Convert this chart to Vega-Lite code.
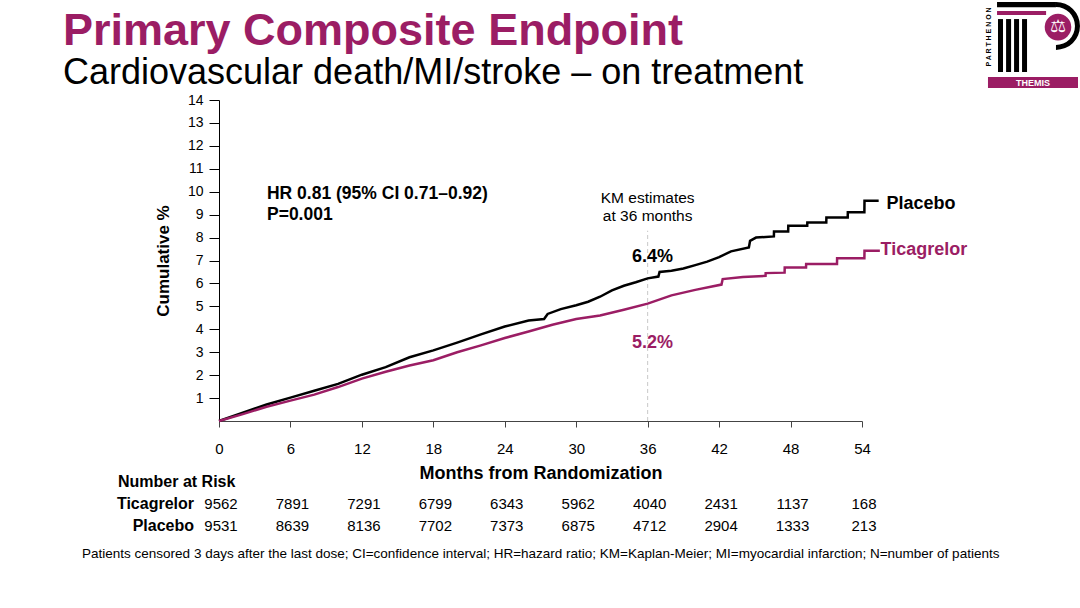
{
  "$schema": "https://vega.github.io/schema/vega-lite/v6.json",
  "autosize": {"type": "none"},
  "width": 643,
  "height": 321,
  "padding": {"left": 219, "top": 100, "right": 218, "bottom": 187},
  "background": "#ffffff",
  "config": {
    "font": "Liberation Sans",
    "view": {"stroke": null},
    "text": {"font": "Liberation Sans", "color": "#000000"},
    "axisX": {
      "titleFontSize": 18, "titleFontWeight": "bold", "titleColor": "#000000", "titlePadding": 8,
      "labelFontSize": 15, "labelColor": "#000000", "labelPadding": 14, "labelFlush": false, "labelOverlap": false,
      "tickSize": 6, "tickColor": "#444444", "domainColor": "#444444", "grid": false
    },
    "axisY": {
      "titleFontSize": 17, "titleFontWeight": "bold", "titleColor": "#000000", "titlePadding": 15,
      "labelFontSize": 14, "labelColor": "#000000", "labelPadding": 6, "labelFlush": false, "labelOverlap": false,
      "tickSize": 10, "tickColor": "#000000", "domainColor": "#000000", "grid": false
    }
  },
  "title": {
    "text": "Primary Composite Endpoint",
    "subtitle": "Cardiovascular death/MI/stroke – on treatment",
    "anchor": "start",
    "frame": "group",
    "dx": -156,
    "dy": 93,
    "offset": 4,
    "font": "Liberation Sans",
    "fontSize": 45,
    "fontWeight": "bold",
    "color": "#9B1D64",
    "subtitleFont": "Liberation Sans",
    "subtitleFontSize": 36,
    "subtitleColor": "#000000",
    "subtitlePadding": 2
  },
  "datasets": {
    "km": [
      {"series": "Placebo", "month": 0, "pct": 0},
      {"series": "Placebo", "month": 2, "pct": 0.36},
      {"series": "Placebo", "month": 4, "pct": 0.72},
      {"series": "Placebo", "month": 6, "pct": 1.02},
      {"series": "Placebo", "month": 8, "pct": 1.32},
      {"series": "Placebo", "month": 10, "pct": 1.62},
      {"series": "Placebo", "month": 12, "pct": 2.02},
      {"series": "Placebo", "month": 14, "pct": 2.35},
      {"series": "Placebo", "month": 16, "pct": 2.78},
      {"series": "Placebo", "month": 18, "pct": 3.08},
      {"series": "Placebo", "month": 20, "pct": 3.42},
      {"series": "Placebo", "month": 22, "pct": 3.78},
      {"series": "Placebo", "month": 24, "pct": 4.12},
      {"series": "Placebo", "month": 26, "pct": 4.38},
      {"series": "Placebo", "month": 27.3, "pct": 4.45},
      {"series": "Placebo", "month": 27.6, "pct": 4.67},
      {"series": "Placebo", "month": 28.7, "pct": 4.88},
      {"series": "Placebo", "month": 30, "pct": 5.05},
      {"series": "Placebo", "month": 31, "pct": 5.2},
      {"series": "Placebo", "month": 32, "pct": 5.42},
      {"series": "Placebo", "month": 33, "pct": 5.7},
      {"series": "Placebo", "month": 34, "pct": 5.9},
      {"series": "Placebo", "month": 35, "pct": 6.05},
      {"series": "Placebo", "month": 36, "pct": 6.22},
      {"series": "Placebo", "month": 36.9, "pct": 6.3},
      {"series": "Placebo", "month": 37, "pct": 6.5},
      {"series": "Placebo", "month": 38, "pct": 6.55},
      {"series": "Placebo", "month": 39, "pct": 6.65},
      {"series": "Placebo", "month": 40, "pct": 6.8},
      {"series": "Placebo", "month": 41, "pct": 6.95},
      {"series": "Placebo", "month": 42, "pct": 7.15},
      {"series": "Placebo", "month": 43, "pct": 7.4},
      {"series": "Placebo", "month": 44.5, "pct": 7.57},
      {"series": "Placebo", "month": 44.6, "pct": 7.86},
      {"series": "Placebo", "month": 45.1, "pct": 8.0},
      {"series": "Placebo", "month": 46.6, "pct": 8.05},
      {"series": "Placebo", "month": 46.61, "pct": 8.26},
      {"series": "Placebo", "month": 47.8, "pct": 8.26},
      {"series": "Placebo", "month": 47.81, "pct": 8.52},
      {"series": "Placebo", "month": 49.4, "pct": 8.52},
      {"series": "Placebo", "month": 49.41, "pct": 8.66},
      {"series": "Placebo", "month": 51, "pct": 8.66},
      {"series": "Placebo", "month": 51.01, "pct": 8.88},
      {"series": "Placebo", "month": 52.8, "pct": 8.88},
      {"series": "Placebo", "month": 52.81, "pct": 9.1},
      {"series": "Placebo", "month": 54.2, "pct": 9.1},
      {"series": "Placebo", "month": 54.21, "pct": 9.61},
      {"series": "Placebo", "month": 55.4, "pct": 9.61},
      {"series": "Ticagrelor", "month": 0, "pct": 0},
      {"series": "Ticagrelor", "month": 2, "pct": 0.3},
      {"series": "Ticagrelor", "month": 4, "pct": 0.62},
      {"series": "Ticagrelor", "month": 6, "pct": 0.89},
      {"series": "Ticagrelor", "month": 8, "pct": 1.15},
      {"series": "Ticagrelor", "month": 10, "pct": 1.48},
      {"series": "Ticagrelor", "month": 12, "pct": 1.85},
      {"series": "Ticagrelor", "month": 14, "pct": 2.15},
      {"series": "Ticagrelor", "month": 16, "pct": 2.42},
      {"series": "Ticagrelor", "month": 18, "pct": 2.65},
      {"series": "Ticagrelor", "month": 20, "pct": 3.0},
      {"series": "Ticagrelor", "month": 22, "pct": 3.3},
      {"series": "Ticagrelor", "month": 24, "pct": 3.62},
      {"series": "Ticagrelor", "month": 26, "pct": 3.9},
      {"series": "Ticagrelor", "month": 28, "pct": 4.2},
      {"series": "Ticagrelor", "month": 30, "pct": 4.45},
      {"series": "Ticagrelor", "month": 32, "pct": 4.6},
      {"series": "Ticagrelor", "month": 34, "pct": 4.85},
      {"series": "Ticagrelor", "month": 36, "pct": 5.12},
      {"series": "Ticagrelor", "month": 38, "pct": 5.48},
      {"series": "Ticagrelor", "month": 40, "pct": 5.72},
      {"series": "Ticagrelor", "month": 42.2, "pct": 5.95},
      {"series": "Ticagrelor", "month": 42.3, "pct": 6.19},
      {"series": "Ticagrelor", "month": 44, "pct": 6.28},
      {"series": "Ticagrelor", "month": 45.9, "pct": 6.33},
      {"series": "Ticagrelor", "month": 45.91, "pct": 6.45},
      {"series": "Ticagrelor", "month": 47.5, "pct": 6.47},
      {"series": "Ticagrelor", "month": 47.51, "pct": 6.7},
      {"series": "Ticagrelor", "month": 49.3, "pct": 6.7},
      {"series": "Ticagrelor", "month": 49.31, "pct": 6.85},
      {"series": "Ticagrelor", "month": 51.9, "pct": 6.85},
      {"series": "Ticagrelor", "month": 51.91, "pct": 7.1},
      {"series": "Ticagrelor", "month": 54.2, "pct": 7.1},
      {"series": "Ticagrelor", "month": 54.21, "pct": 7.43},
      {"series": "Ticagrelor", "month": 55.5, "pct": 7.43}
    ],
    "risk": [
      {"group": "Ticagrelor", "month": 0, "n": 9562},
      {"group": "Ticagrelor", "month": 6, "n": 7891},
      {"group": "Ticagrelor", "month": 12, "n": 7291},
      {"group": "Ticagrelor", "month": 18, "n": 6799},
      {"group": "Ticagrelor", "month": 24, "n": 6343},
      {"group": "Ticagrelor", "month": 30, "n": 5962},
      {"group": "Ticagrelor", "month": 36, "n": 4040},
      {"group": "Ticagrelor", "month": 42, "n": 2431},
      {"group": "Ticagrelor", "month": 48, "n": 1137},
      {"group": "Ticagrelor", "month": 54, "n": 168},
      {"group": "Placebo", "month": 0, "n": 9531},
      {"group": "Placebo", "month": 6, "n": 8639},
      {"group": "Placebo", "month": 12, "n": 8136},
      {"group": "Placebo", "month": 18, "n": 7702},
      {"group": "Placebo", "month": 24, "n": 7373},
      {"group": "Placebo", "month": 30, "n": 6875},
      {"group": "Placebo", "month": 36, "n": 4712},
      {"group": "Placebo", "month": 42, "n": 2904},
      {"group": "Placebo", "month": 48, "n": 1333},
      {"group": "Placebo", "month": 54, "n": 213}
    ]
  },
  "data": {"values": [{"note": "annotation"}]},
  "layer": [
    {
      "mark": {"type": "rule", "color": "#c8c8c8", "strokeDash": [4, 3], "strokeWidth": 1},
      "encoding": {
        "x": {"datum": 36, "type": "quantitative", "scale": {"domain": [0, 54], "nice": false, "zero": false},
          "axis": {"values": [0, 6, 12, 18, 24, 30, 36, 42, 48, 54], "tickCount": 20, "format": "d", "title": "Months from Randomization"}},
        "y": {"datum": 0, "type": "quantitative", "scale": {"domain": [0, 14], "nice": false, "zero": false},
          "axis": {"values": [1, 2, 3, 4, 5, 6, 7, 8, 9, 10, 11, 12, 13, 14], "tickCount": 20, "format": "d", "title": "Cumulative %"}},
        "y2": {"datum": 8.3}
      }
    },
    {
      "data": {"name": "km"},
      "mark": {"type": "line", "interpolate": "linear", "strokeWidth": 2.5},
      "encoding": {
        "x": {"field": "month", "type": "quantitative", "scale": {"domain": [0, 54], "nice": false, "zero": false}},
        "y": {"field": "pct", "type": "quantitative", "scale": {"domain": [0, 14], "nice": false, "zero": false}},
        "color": {"field": "series", "type": "nominal",
          "scale": {"domain": ["Placebo", "Ticagrelor"], "range": ["#000000", "#9B1D64"]}, "legend": null}
      }
    },
    {
      "mark": {"type": "text", "text": "HR 0.81 (95% CI 0.71–0.92)", "align": "left", "baseline": "middle", "fontSize": 17.5, "fontWeight": "bold"},
      "encoding": {"x": {"datum": 4.03}, "y": {"datum": 9.9}}
    },
    {
      "mark": {"type": "text", "text": "P=0.001", "align": "left", "baseline": "middle", "fontSize": 17.5, "fontWeight": "bold"},
      "encoding": {"x": {"datum": 4.03}, "y": {"datum": 8.98}}
    },
    {
      "mark": {"type": "text", "text": "KM estimates", "align": "center", "baseline": "middle", "fontSize": 15.5},
      "encoding": {"x": {"datum": 36}, "y": {"datum": 9.72}}
    },
    {
      "mark": {"type": "text", "text": "at 36 months", "align": "center", "baseline": "middle", "fontSize": 15.5},
      "encoding": {"x": {"datum": 36}, "y": {"datum": 8.94}}
    },
    {
      "mark": {"type": "text", "text": "6.4%", "align": "center", "baseline": "middle", "fontSize": 18, "fontWeight": "bold"},
      "encoding": {"x": {"datum": 36.4}, "y": {"datum": 7.14}}
    },
    {
      "mark": {"type": "text", "text": "5.2%", "align": "center", "baseline": "middle", "fontSize": 18, "fontWeight": "bold", "color": "#9B1D64"},
      "encoding": {"x": {"datum": 36.4}, "y": {"datum": 3.39}}
    },
    {
      "mark": {"type": "text", "text": "Placebo", "align": "left", "baseline": "middle", "fontSize": 18, "fontWeight": "bold"},
      "encoding": {"x": {"datum": 56.06}, "y": {"datum": 9.46}}
    },
    {
      "mark": {"type": "text", "text": "Ticagrelor", "align": "left", "baseline": "middle", "fontSize": 18, "fontWeight": "bold", "color": "#9B1D64"},
      "encoding": {"x": {"datum": 55.56}, "y": {"datum": 7.46}}
    },
    {
      "mark": {"type": "text", "text": "Number at Risk", "align": "left", "baseline": "middle", "fontSize": 16, "fontWeight": "bold"},
      "encoding": {"x": {"datum": -8.48}, "y": {"datum": -2.66}}
    },
    {
      "mark": {"type": "text", "text": "Ticagrelor", "align": "right", "baseline": "middle", "fontSize": 16, "fontWeight": "bold"},
      "encoding": {"x": {"datum": -2.1}, "y": {"datum": -3.62}}
    },
    {
      "mark": {"type": "text", "text": "Placebo", "align": "right", "baseline": "middle", "fontSize": 16, "fontWeight": "bold"},
      "encoding": {"x": {"datum": -2.1}, "y": {"datum": -4.58}}
    },
    {
      "data": {"name": "risk"},
      "transform": [{"filter": "datum.group === 'Ticagrelor'"}],
      "mark": {"type": "text", "align": "center", "baseline": "middle", "fontSize": 15, "dx": 2},
      "encoding": {"x": {"field": "month", "type": "quantitative", "scale": {"domain": [0, 54], "nice": false, "zero": false}}, "y": {"datum": -3.62}, "text": {"field": "n", "type": "nominal"}}
    },
    {
      "data": {"name": "risk"},
      "transform": [{"filter": "datum.group === 'Placebo'"}],
      "mark": {"type": "text", "align": "center", "baseline": "middle", "fontSize": 15, "dx": 2},
      "encoding": {"x": {"field": "month", "type": "quantitative", "scale": {"domain": [0, 54], "nice": false, "zero": false}}, "y": {"datum": -4.58}, "text": {"field": "n", "type": "nominal"}}
    },
    {
      "mark": {"type": "text", "text": "Patients censored 3 days after the last dose; CI=confidence interval; HR=hazard ratio; KM=Kaplan-Meier; MI=myocardial infarction; N=number of patients", "align": "left", "baseline": "middle", "fontSize": 13.5},
      "encoding": {"x": {"datum": -11.5}, "y": {"datum": -5.8}}
    },
    {
      "mark": {"type": "rect", "color": "#9B1D64"},
      "encoding": {"x": {"datum": 64.58}, "x2": {"datum": 72.14}, "y": {"datum": 15.0}, "y2": {"datum": 14.52}}
    },
    {
      "mark": {"type": "text", "text": "THEMIS", "align": "center", "baseline": "middle", "fontSize": 9, "fontWeight": "bold", "color": "#ffffff"},
      "encoding": {"x": {"datum": 68.36}, "y": {"datum": 14.76}}
    },
    {
      "mark": {"type": "text", "text": "P A R T H E N O N", "align": "center", "baseline": "middle", "fontSize": 7, "fontWeight": "bold", "angle": 270},
      "encoding": {"x": {"datum": 64.67}, "y": {"datum": 16.75}}
    },
    {
      "mark": {"type": "arc", "theta": 0, "theta2": 3.1416, "radius": 19, "radius2": 24, "color": "#000000"},
      "encoding": {"x": {"datum": 70.29}, "y": {"datum": 17.23}}
    },
    {
      "mark": {"type": "rect", "color": "#000000"},
      "encoding": {"x": {"datum": 65.34}, "x2": {"datum": 70.29}, "y": {"datum": 18.27}, "y2": {"datum": 18.05}}
    },
    {
      "mark": {"type": "rect", "color": "#9B1D64"},
      "encoding": {"x": {"datum": 65.34}, "x2": {"datum": 69.46}, "y": {"datum": 17.88}, "y2": {"datum": 17.71}}
    },
    {
      "mark": {"type": "point", "filled": true, "shape": "circle", "size": 707, "color": "#9B1D64", "opacity": 1},
      "encoding": {"x": {"datum": 70.46}, "y": {"datum": 17.18}}
    },
    {
      "mark": {"type": "text", "text": "⚖", "align": "center", "baseline": "middle", "fontSize": 18, "font": "DejaVu Sans", "color": "#ffffff"},
      "encoding": {"x": {"datum": 70.46}, "y": {"datum": 17.18}}
    },
    {
      "mark": {"type": "rect", "color": "#000000"},
      "encoding": {"x": {"datum": 65.42}, "x2": {"datum": 65.84}, "y": {"datum": 17.53}, "y2": {"datum": 15.22}}
    },
    {
      "mark": {"type": "rect", "color": "#000000"},
      "encoding": {"x": {"datum": 66.1}, "x2": {"datum": 66.52}, "y": {"datum": 17.53}, "y2": {"datum": 15.22}}
    },
    {
      "mark": {"type": "rect", "color": "#000000"},
      "encoding": {"x": {"datum": 66.77}, "x2": {"datum": 67.19}, "y": {"datum": 17.53}, "y2": {"datum": 15.22}}
    },
    {
      "mark": {"type": "rect", "color": "#000000"},
      "encoding": {"x": {"datum": 67.44}, "x2": {"datum": 67.86}, "y": {"datum": 17.53}, "y2": {"datum": 15.22}}
    }
  ]
}
